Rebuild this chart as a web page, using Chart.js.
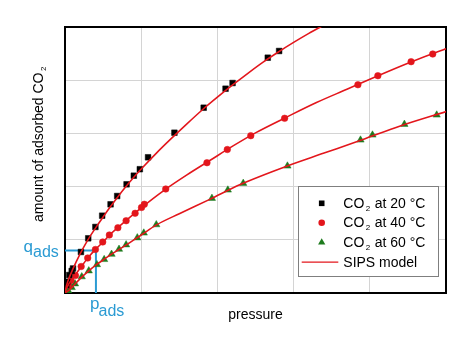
<!DOCTYPE html>
<html><head><meta charset="utf-8">
<script src="https://cdn.jsdelivr.net/npm/chart.js@4/dist/chart.umd.min.js"></script>
<style>html,body{margin:0;padding:0;background:#fff}</style>
</head><body>
<canvas id="c" width="474" height="356"></canvas>
<script>
// Measured data (arbitrary units, 0..5 on both axes)
const p20x = [0.017,0.030,0.056,0.088,0.105,0.209,0.305,0.399,0.488,0.598,0.685,0.808,0.903,0.982,1.090,1.436,1.820,2.107,2.199,2.661,2.810];
const p20y = [0.150,0.212,0.338,0.414,0.461,0.771,1.028,1.241,1.453,1.667,1.823,2.043,2.205,2.327,2.551,3.013,3.483,3.840,3.947,4.423,4.549];
const p40x = [0.043,0.079,0.137,0.212,0.298,0.399,0.495,0.582,0.694,0.802,0.920,1.004,1.041,1.322,1.863,2.130,2.438,2.882,3.844,4.106,4.542,4.826];
const p40y = [0.150,0.235,0.329,0.498,0.658,0.818,0.959,1.090,1.227,1.359,1.498,1.607,1.667,1.955,2.449,2.697,2.957,3.284,3.915,4.085,4.348,4.492];
const p60x = [0.043,0.088,0.131,0.220,0.312,0.419,0.514,0.611,0.709,0.802,0.949,1.034,1.198,1.928,2.137,2.339,2.919,3.878,4.035,4.454,4.878];
const p60y = [0.041,0.103,0.173,0.306,0.417,0.534,0.630,0.729,0.823,0.906,1.038,1.128,1.284,1.780,1.936,2.062,2.387,2.876,2.970,3.171,3.346];
// SIPS model curves
const m20x = [0,0.02,0.05,0.1,0.2,0.3,0.4,0.5,0.6,0.7,0.8,0.9,1.0,1.2,1.4,1.6,1.8,2.0,2.2,2.4,2.6,2.8,3.0,3.2,3.4];
const m20y = [0,0.14,0.27,0.44,0.74,1.00,1.22,1.43,1.63,1.82,2.00,2.17,2.33,2.63,2.91,3.18,3.44,3.68,3.91,4.13,4.34,4.53,4.71,4.88,5.04];
const m40x = [0,0.02,0.05,0.1,0.2,0.3,0.4,0.5,0.6,0.8,1.0,1.3,1.6,1.9,2.2,2.5,2.9,3.3,3.7,4.1,4.5,4.9,5.0];
const m40y = [0,0.09,0.17,0.27,0.47,0.66,0.82,0.96,1.11,1.36,1.60,1.93,2.22,2.49,2.76,3.01,3.30,3.58,3.83,4.08,4.32,4.54,4.59];
const m60x = [0,0.02,0.05,0.1,0.2,0.3,0.4,0.5,0.6,0.8,1.0,1.2,1.5,1.9,2.3,2.9,3.4,3.9,4.4,5.0];
const m60y = [0,0.02,0.05,0.12,0.27,0.40,0.52,0.62,0.72,0.90,1.09,1.28,1.49,1.76,2.04,2.38,2.63,2.88,3.14,3.41];
const pAds = 0.406, qAds = 0.80;
const labels = ['CO|2| at 20 °C','CO|2| at 40 °C','CO|2| at 60 °C','SIPS model'];
const RED = '#e3161c', GREEN = '#1e7b1e', BLUE = '#2b9bd3';
const FONT = '"Liberation Sans", Arial, sans-serif';

const zip = (xs, ys) => xs.map((x, i) => ({x, y: ys[i]}));
const curve = (xs, ys) => ({type:'line', data: zip(xs, ys), borderColor: RED, borderWidth: 1.6, pointRadius: 0, showLine: true, fill: false, cubicInterpolationMode: 'monotone'});
const pts = (xs, ys, style, color, r, label) => ({type:'scatter', label, data: zip(xs, ys), pointStyle: style, pointRadius: r, pointBackgroundColor: color, pointBorderColor: color, pointBorderWidth: 0.5, showLine: false});

function subText(ctx, str, x, y, size, subSize, subDy){
  const parts = str.split('|');
  let cx = x;
  parts.forEach((p, i) => {
    const sub = i % 2 === 1;
    ctx.font = (sub ? subSize : size) + 'px ' + FONT;
    ctx.fillText(p, cx, y + (sub ? subDy : 0));
    cx += ctx.measureText(p).width + (sub ? 0.5 : 0) + (i===0 && parts.length>1 ? 1.5 : 0);
  });
}

const deco = {
  id: 'deco',
  beforeDatasetsDraw(chart){
    const {ctx, chartArea: a} = chart;
    ctx.save();
    ctx.strokeStyle = '#000'; ctx.lineWidth = 2;
    ctx.strokeRect(a.left, a.top, a.right - a.left, a.bottom - a.top);
    ctx.restore();
  },
  afterDraw(chart){
    const {ctx} = chart;
    ctx.save();
    ctx.fillStyle = '#000'; ctx.textBaseline = 'alphabetic'; ctx.textAlign = 'left';
    ctx.font = '14px ' + FONT;
    ctx.textAlign = 'center';
    ctx.fillText('pressure', 255.5, 319);
    ctx.textAlign = 'left';
    ctx.save();
    ctx.translate(43, 222); ctx.rotate(-Math.PI/2);
    subText(ctx, 'amount of adsorbed CO|2|', 0, 0, 14, 8, 3);
    ctx.restore();
    ctx.fillStyle = BLUE;
    ctx.font = '17px ' + FONT;
    ctx.fillText('q', 23.5, 251.5);
    ctx.fillText('p', 90, 308.5);
    ctx.font = '16px ' + FONT;
    ctx.fillText('ads', 33, 257);
    ctx.fillText('ads', 98.5, 316);
    const lx = 298.5, ly = 186.5;
    ctx.fillStyle = '#fff'; ctx.fillRect(lx, ly, 140, 90);
    ctx.strokeStyle = '#7f7f7f'; ctx.lineWidth = 1; ctx.strokeRect(lx, ly, 140, 90);
    const base = [207.5, 227.2, 246.9, 266.6];
    const mx = 321.7;
    ctx.fillStyle = '#000';
    ctx.fillRect(mx - 2.8, base[0] - 4.2 - 2.8, 5.6, 5.6);
    ctx.fillStyle = RED;
    ctx.beginPath(); ctx.arc(mx, base[1] - 4.5, 3.3, 0, Math.PI*2); ctx.fill();
    ctx.fillStyle = GREEN;
    ctx.beginPath();
    const ty = base[2] - 4.5, tr = 4.2;
    ctx.moveTo(mx, ty - tr); ctx.lineTo(mx + tr*0.866, ty + tr/2); ctx.lineTo(mx - tr*0.866, ty + tr/2); ctx.closePath(); ctx.fill();
    ctx.strokeStyle = RED; ctx.lineWidth = 1.3;
    ctx.beginPath(); ctx.moveTo(301.7, base[3] - 4.5); ctx.lineTo(338.3, base[3] - 4.5); ctx.stroke();
    ctx.fillStyle = '#000';
    labels.forEach((l, i) => subText(ctx, l, 343.3, base[i], 14, 8, 3));
    ctx.restore();
  }
};

new Chart(document.getElementById('c'), {
  data: {
    datasets: [
      curve(m20x, m20y), curve(m40x, m40y), curve(m60x, m60y),
      pts(p20x, p20y, 'rect', '#000', 4.0, labels[0]),
      pts(p40x, p40y, 'circle', RED, 3.3, labels[1]),
      pts(p60x, p60y, 'triangle', GREEN, 4.2, labels[2]),
      {type:'line', data: [{x:0,y:qAds},{x:pAds,y:qAds},{x:pAds,y:0}], borderColor: BLUE, borderWidth: 2, pointRadius: 0, tension: 0, fill: false}
    ]
  },
  options: {
    responsive: false, animation: false,
    layout: {padding: {left: 65, right: 28, top: 27, bottom: 63}},
    plugins: {legend: {display: false}, tooltip: {enabled: false}},
    scales: {
      x: {type: 'linear', min: 0, max: 5, ticks: {display: false, stepSize: 1}, grid: {color: '#d4d4d4', drawTicks: false}, border: {display: false}, afterFit: s => { s.height = 0; }},
      y: {type: 'linear', min: 0, max: 5, ticks: {display: false, stepSize: 1}, grid: {color: '#d4d4d4', drawTicks: false}, border: {display: false}, afterFit: s => { s.width = 0; }}
    }
  },
  plugins: [deco]
});
</script>
</body></html>
